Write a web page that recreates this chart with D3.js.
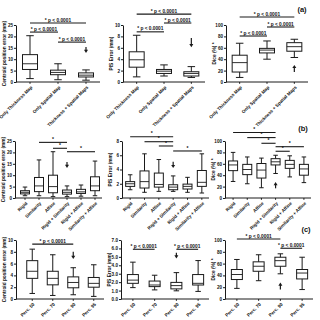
<!DOCTYPE html>
<html>
<head>
<meta charset="utf-8">
<script src="https://cdn.jsdelivr.net/npm/d3@7"></script>
<style>
  body { margin: 0; background: #fff; }
  svg text { font-family: "Liberation Sans", Arial, sans-serif; fill: #111; }
</style>
</head>
<body>
<div id="chart"></div>
<script>
'use strict';

// group names for the three rows
const methodsA = ['Only Thickness Map', 'Only Spatial Map', 'Thickness + Spatial Maps'];
const methodsB = ['Rigid', 'Similarity', 'Affine', 'Rigid + Similarity', 'Rigid + Affine', 'Similarity + Affine'];
const methodsC = ['Perc. 50', 'Perc. 70', 'Perc. 90', 'Perc. 95'];

// box stats: [min, q1, median, q3, max]
const centroidA = [[1.5, 5.5, 8, 12, 20.3], [1, 3.2, 4.2, 5.2, 8], [0.8, 2.2, 3, 4, 5.3]];
const pisA = [[0.9, 2.6, 3.9, 5.3, 8.2], [1.05, 1.5, 1.9, 2.2, 3.0], [0.8, 1.05, 1.5, 1.8, 2.7]];
const diceA = [[8, 17.5, 34, 47, 68], [40, 51, 56, 59, 72], [43, 54, 62, 69, 75]];

const centroidB = [[1, 1.8, 2.5, 3.2, 4.8], [1, 2.8, 5.3, 9, 16.7], [0.6, 2.3, 5, 10, 20.3],
  [0.6, 1.7, 2.5, 3.5, 5.3], [0.8, 2, 2.7, 3.8, 5.7], [1, 3.2, 5.3, 9.3, 16.2]];
const pisB = [[1.16, 1.63, 2.0, 2.3, 3.26], [0.8, 1.4, 2.3, 3.8, 6.2], [0.93, 1.53, 1.9, 3.5, 5.4],
  [0.93, 1.16, 1.53, 1.86, 3.1], [0.8, 1.26, 1.63, 1.95, 2.9], [0.7, 1.63, 2.2, 3.86, 6.2]];
const diceB = [[29, 48, 58, 65, 80], [25, 41, 50, 59, 72], [18, 35, 49, 60.5, 70],
  [43, 58, 63.5, 69, 75], [37, 52, 59, 66, 74], [27, 40, 51, 59, 72]];

const centroidC = [[0.94, 3.5, 4.7, 6.5, 8.45], [0.6, 2.4, 3.5, 4.7, 7.5], [0.72, 1.9, 2.8, 3.75, 5.3], [0.44, 2, 2.65, 3.65, 5.8]];
const pisC = [[1.35, 1.86, 2.24, 2.9, 4.37], [1.08, 1.47, 1.66, 2.13, 2.82], [0.97, 1.2, 1.59, 1.97, 3.13], [0.9, 1.66, 1.86, 2.9, 4.56]];
const diceC = [[18, 33, 41.5, 50, 67], [31, 47, 55.5, 63, 75], [42.7, 55.5, 65, 70.8, 76.6], [16, 34, 44, 50, 70.8]];

// y axis ticks
const centroidTicksA = [0, 5, 10, 15, 20, 25];
const pisTicksA = [0, 2, 4, 6, 8, 10];
const diceTicks = [0, 20, 40, 60, 80, 100];
const centroidTicksB = [0, 5, 10, 15, 20, 25];
const pisTicksB = [0, 2, 4, 6, 8];
const centroidTicksC = [0, 2, 4, 6, 8, 10];
const pisTicksC = [0, 1, 2, 3, 4, 5, 6, 7];

// significance brackets: [from group, to group, level in data units, label]
const pText = '* p < 0.0001';
const centroidBracketsA = [[0, 2, 25.9, pText], [0, 1, 21.9, pText], [1, 2, 17.5, pText]];
const pisBracketsA = [[0, 2, 11.9, pText], [1, 2, 10.35, pText], [0, 1, 8.8, pText]];
const diceBracketsA = [[0, 2, 114, pText], [1, 2, 96.5, pText], [0, 1, 80.7, pText]];
const centroidBracketsB = [[1, 3, 24.4, '*'], [2, 3, 21.8, '*'], [3, 5, 20.3, '*']];
const pisBracketsB = [[0, 3, 8.6, '*'], [1, 3, 7.9, '*'], [2, 3, 7.3, '*'], [3, 5, 6.6, '*']];
const diceBracketsB = [[0, 3, 115, '*'], [1, 3, 106, '*'], [2, 3, 96, '*'], [3, 5, 90, '*'], [3, 4, 82, '*']];
const centroidBracketsC = [[0, 2, 9.3, pText]];
const pisBracketsC = [[0, 1, 5.9, pText], [2, 3, 5.9, pText]];
const diceBracketsC = [[0, 2, 101.7, pText], [2, 3, 86, pText]];

// arrows marking the selected method: [group, tail value, head value]
const centroidArrowA = [2, 15.4, 12.7];
const pisArrowA = [2, 7.7, 6.1];
const diceArrowA = [2, 17.5, 30];
const centroidArrowB = [3, 15.8, 13.2];
const pisArrowB = [3, 5.1, 4.2];
const diceArrowB = [3, 17, 28];
const centroidArrowC = [2, 8, 6.8];
const pisArrowC = [2, 5.5, 4.8];
const diceArrowC = [2, 16, 28];

const centroidLabel = 'Centroid position error (mm)';
const pisLabel = 'PIS Error (mm)';
const diceLabel = 'Dice (%) *';

const ink = '#1a1a1a';
const width = 320;
const height = 320;

/** layout of one row of panels */
class RowLayout {
  constructor (top, bottom, boxWidth) {
    this.top = top;
    this.bottom = bottom;
    this.boxWidth = boxWidth;
  }
}

const rowA = new RowLayout(25, 82, 15);
const rowB = new RowLayout(141, 198, 9);
const rowC = new RowLayout(240, 299, 11);

// axis x and band range for each panel
const panels = [
  { row: rowA, axisX: 16, band: [16, 100], groups: methodsA, stats: centroidA, ticks: centroidTicksA, label: centroidLabel, brackets: centroidBracketsA, arrow: centroidArrowA },
  { row: rowA, axisX: 123, band: [123, 205], groups: methodsA, stats: pisA, ticks: pisTicksA, label: pisLabel, brackets: pisBracketsA, arrow: pisArrowA },
  { row: rowA, axisX: 226, band: [226, 308], groups: methodsA, stats: diceA, ticks: diceTicks, label: diceLabel, brackets: diceBracketsA, arrow: diceArrowA },
  { row: rowB, axisX: 15, band: [18, 102], groups: methodsB, stats: centroidB, ticks: centroidTicksB, label: centroidLabel, brackets: centroidBracketsB, arrow: centroidArrowB },
  { row: rowB, axisX: 122, band: [123, 209], groups: methodsB, stats: pisB, ticks: pisTicksB, label: pisLabel, brackets: pisBracketsB, arrow: pisArrowB },
  { row: rowB, axisX: 225, band: [226, 311], groups: methodsB, stats: diceB, ticks: diceTicks, label: diceLabel, brackets: diceBracketsB, arrow: diceArrowB },
  { row: rowC, axisX: 16, band: [22, 104], groups: methodsC, stats: centroidC, ticks: centroidTicksC, label: centroidLabel, brackets: centroidBracketsC, arrow: centroidArrowC },
  { row: rowC, axisX: 121, band: [122, 209], groups: methodsC, stats: pisC, ticks: pisTicksC, label: pisLabel, brackets: pisBracketsC, arrow: pisArrowC },
  { row: rowC, axisX: 225, band: [226, 313], groups: methodsC, stats: diceC, ticks: diceTicks, label: diceLabel, brackets: diceBracketsC, arrow: diceArrowC }
];

const svg = d3.select('#chart')
  .append('svg')
    .attr('width', width)
    .attr('height', height);

svg.append('rect').attr('width', width).attr('height', height).attr('fill', '#fff');

function drawPanel (p) {
  const g = svg.append('g');
  const row = p.row;
  const yMax = p.ticks[p.ticks.length - 1];

  const x = d3.scalePoint()
    .domain(p.groups)
    .range(p.band)
    .padding(0.5);
  const y = d3.scaleLinear()
    .domain([0, yMax])
    .range([row.bottom, row.top]);

  // y axis
  const yAxis = g.append('g')
    .attr('transform', `translate(${p.axisX},0)`)
    .call(d3.axisLeft(y).tickValues(p.ticks).tickSize(2).tickPadding(1).tickSizeOuter(0));
  yAxis.selectAll('text').style('font-size', '4.6px').style('font-weight', 'bold').attr('fill', ink);
  yAxis.selectAll('line, path').attr('stroke', ink).attr('stroke-width', 1);

  // x axis line and ticks
  g.append('line')
    .attr('x1', p.axisX).attr('x2', p.band[1])
    .attr('y1', row.bottom).attr('y2', row.bottom)
    .attr('stroke', ink).attr('stroke-width', 1);
  g.selectAll('.xtick')
    .data(p.groups)
    .join('line')
      .attr('x1', d => x(d)).attr('x2', d => x(d))
      .attr('y1', row.bottom).attr('y2', row.bottom + 1.8)
      .attr('stroke', ink).attr('stroke-width', 1);
  g.selectAll('.xlab')
    .data(p.groups)
    .join('text')
      .attr('transform', d => `translate(${x(d) + 1.5},${row.bottom + 4.5}) rotate(-45)`)
      .attr('text-anchor', 'end')
      .attr('dy', '0.35em')
      .style('font-size', '4.6px')
      .style('font-weight', 'bold')
      .text(d => d);

  // y label
  g.append('text')
    .attr('transform', `translate(${p.axisX - 10.5},${(row.top + row.bottom) / 2}) rotate(-90)`)
    .attr('text-anchor', 'middle')
    .style('font-size', '4.8px')
    .style('font-weight', 'bold')
    .text(p.label);

  // boxes
  const bw = row.boxWidth;
  const boxes = g.selectAll('.box')
    .data(p.stats.map((s, i) => ({ name: p.groups[i], s: s })))
    .join('g');
  boxes.append('line')
    .attr('x1', d => x(d.name)).attr('x2', d => x(d.name))
    .attr('y1', d => y(d.s[0])).attr('y2', d => y(d.s[4]))
    .attr('stroke', ink).attr('stroke-width', 1);
  boxes.append('rect')
    .attr('x', d => x(d.name) - bw / 2)
    .attr('width', bw)
    .attr('y', d => y(d.s[3]))
    .attr('height', d => y(d.s[1]) - y(d.s[3]))
    .attr('fill', '#fff')
    .attr('stroke', ink).attr('stroke-width', 1);
  boxes.append('line')
    .attr('x1', d => x(d.name) - bw / 2).attr('x2', d => x(d.name) + bw / 2)
    .attr('y1', d => y(d.s[2])).attr('y2', d => y(d.s[2]))
    .attr('stroke', ink).attr('stroke-width', 0.9);
  [0, 4].forEach(k => {
    boxes.append('line')
      .attr('x1', d => x(d.name) - bw / 4).attr('x2', d => x(d.name) + bw / 4)
      .attr('y1', d => y(d.s[k])).attr('y2', d => y(d.s[k]))
      .attr('stroke', ink).attr('stroke-width', 1);
  });

  // significance brackets
  p.brackets.forEach(b => {
    const x1 = x(p.groups[b[0]]);
    const x2 = x(p.groups[b[1]]);
    g.append('line')
      .attr('x1', x1).attr('x2', x2)
      .attr('y1', y(b[2])).attr('y2', y(b[2]))
      .attr('stroke', ink).attr('stroke-width', 1.1);
    g.append('text')
      .attr('x', (x1 + x2) / 2)
      .attr('y', y(b[2]) - 1.4)
      .attr('text-anchor', 'middle')
      .style('font-size', b[3] === '*' ? '5px' : '4.8px')
      .style('font-weight', 'bold')
      .text(b[3]);
  });

  // arrow
  const a = p.arrow;
  const ax = x(p.groups[a[0]]);
  const tail = y(a[1]);
  const head = y(a[2]);
  const dir = head > tail ? 1 : -1;
  g.append('line')
    .attr('x1', ax).attr('x2', ax)
    .attr('y1', tail).attr('y2', head - dir * 2.5)
    .attr('stroke', ink).attr('stroke-width', 1.2);
  g.append('path')
    .attr('d', `M${ax - 2},${head - dir * 3.2}L${ax + 2},${head - dir * 3.2}L${ax},${head}Z`)
    .attr('fill', ink);
}

panels.forEach(drawPanel);

// panel tags
const tags = [['(a)', 302, 12], ['(b)', 303, 131], ['(c)', 306, 232]];
svg.selectAll('.tag')
  .data(tags)
  .join('text')
    .attr('x', d => d[1])
    .attr('y', d => d[2])
    .attr('text-anchor', 'middle')
    .style('font-size', '7.5px')
    .style('font-weight', 'bold')
    .text(d => d[0]);
</script>
</body>
</html>
